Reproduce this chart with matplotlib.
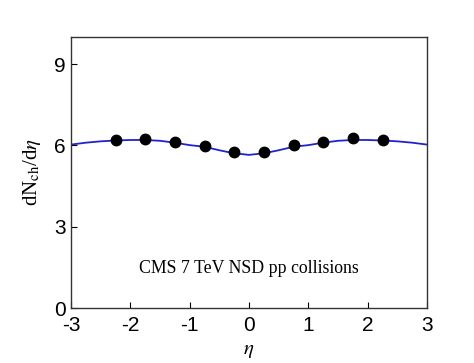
import matplotlib
matplotlib.use('Agg')
import matplotlib.pyplot as plt

plt.rcParams['mathtext.fontset'] = 'stix'

# CMS data points
eta_pts = [-2.25, -1.75, -1.25, -0.75, -0.25, 0.25, 0.75, 1.25, 1.75, 2.25]
dn_pts = [6.20, 6.25, 6.12, 5.98, 5.75, 5.75, 6.00, 6.12, 6.27, 6.20]

# model curve
eta_curve = [-3.0, -2.75, -2.5, -2.25, -2.0, -1.75, -1.5, -1.25, -1.0, -0.75, -0.5, -0.25, 0.0,
             0.25, 0.5, 0.75, 1.0, 1.25, 1.5, 1.75, 2.0, 2.25, 2.5, 2.75, 3.0]
dn_curve = [6.03, 6.10, 6.15, 6.18, 6.20, 6.20, 6.17, 6.10, 6.01, 5.95, 5.82, 5.71, 5.65,
            5.71, 5.82, 5.95, 6.01, 6.10, 6.17, 6.20, 6.20, 6.18, 6.15, 6.10, 6.03]

fig = plt.figure(figsize=(4.74, 3.63), dpi=100)
ax = fig.add_axes([71/474, 1 - 308/363, 356/474, 271/363])

ax.plot(eta_curve, dn_curve, color='#2222cc', lw=1.3, zorder=2)
ax.plot(eta_pts, dn_pts, 'o', color='black', ms=7.5, zorder=3)

ax.set_xlim(-3, 3)
ax.set_ylim(0, 10)
ax.set_xticks([-3, -2, -1, 0, 1, 2, 3])
ax.set_xticklabels(['-3', '-2', '-1', '0', '1', '2', '3'])
ax.set_yticks([0, 3, 6, 9])
ax.tick_params(direction='in', length=4, labelsize=15)
ax.tick_params(axis='x', pad=6)
ax.tick_params(axis='y', pad=4)
for lab in ax.get_xticklabels() + ax.get_yticklabels():
    lab.set_family('Liberation Sans')
for s in ax.spines.values():
    s.set_linewidth(1.0)
    s.set_color('#333333')

ax.set_xlabel(r'$\eta$', fontsize=15, labelpad=3)
ax.set_ylabel(r'dN$_{\mathrm{ch}}$/d$\eta$', fontsize=15, family='Liberation Serif', labelpad=8)
ax.text(0, 1.47, 'CMS 7 TeV NSD pp collisions', ha='center', va='center',
        fontsize=12.8, family='Liberation Serif')

fig.savefig('out.png', dpi=100)
